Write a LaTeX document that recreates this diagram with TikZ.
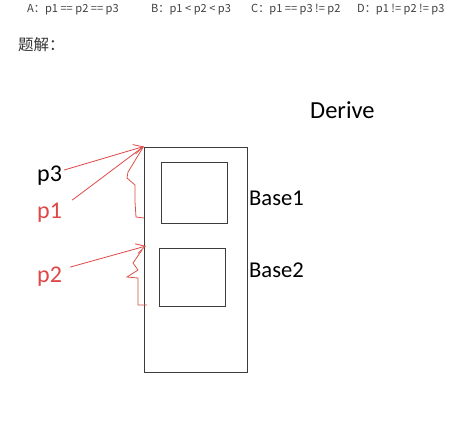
\documentclass[tikz,border=0pt]{standalone}
\usepackage{fontspec}
\setmainfont{Carlito}
\newfontfamily\cjk{Noto Sans CJK SC}
\usetikzlibrary{calc,arrows.meta,positioning}
\definecolor{penred}{RGB}{222,72,72}
\definecolor{boxgray}{RGB}{60,60,60}
\tikzset{
  opt/.style={anchor=west,font=\cjk\fontsize{11.1}{13}\selectfont,text=black!75,inner sep=0pt},
  cls/.style={draw=boxgray,line width=0.9pt},
  lbl/.style={anchor=west,font=\fontsize{24}{26}\selectfont,inner sep=0pt},
  pen/.style={penred,line width=0.8pt},
  penarrow/.style={pen,-{Straight Barb[length=9pt,width=10pt]}}
}
\begin{document}
\begin{tikzpicture}[x=1pt,y=-1pt]
        \useasboundingbox[fill=white](0,0)rectangle(474,437);
        % question line
        \node[opt](optA)at(27,10){A：p1 == p2 == p3};
        \node[opt](optB)at(151,10){B：p1 < p2 < p3};
        \node[opt](optC)at(251,10){C：p1 == p3 != p2};
        \node[opt](optD)at(357,10){D：p1 != p2 != p3};
        \node[anchor=west,font=\cjk\fontsize{15.5}{17}\selectfont,text=black!80,inner sep=0pt](answer)at(18,45){题解：};
        % object layout
        \node[cls,minimum width=103pt,minimum height=225pt,inner sep=0pt](derive)at(195.5,259.5){};
        \node[cls,minimum width=66pt,minimum height=61pt,inner sep=0pt](baseA)at(194,192.5){};
        \node[cls,minimum width=66pt,minimum height=58pt,inner sep=0pt](baseB)at(192,277){};
        \node[lbl,font=\fontsize{24.5}{26}\selectfont](derivename)at(310,110){Derive};
        \node[lbl,font=\fontsize{22.6}{24}\selectfont](baseAname)at(249,198){Base1};
        \node[lbl,font=\fontsize{22.6}{24}\selectfont](baseBname)at(249,270){Base2};
        % pointers
        \node[lbl](pthree)at(37,176){p3};
        \node[lbl,text=penred](pone)at(37,213){p1};
        \node[lbl,text=penred](ptwo)at(37,277){p2};
        \coordinate(topA)at(derive.north west);
        \coordinate(topB)at(146,246);
        \draw[penarrow]($(pthree.east)+(2,-6)$)--(topA);
        \draw[pen]($(pone.north east)+(10,-3)$)--(topA);
        \draw[penarrow]($(ptwo.north east)+(8,0)$)--(topB);
        % hand drawn braces
        \draw[pen,penred!80!brown](topA)--(128,172)--(127,178)--(135,185)--(135,202)--(136,217)--(144,218);
        \draw[pen,penred!80!brown](142,250)--(133,263)--(138,270)--(127,277)--(138,278)--(138,305)--(147,305);
\end{tikzpicture}
\end{document}
